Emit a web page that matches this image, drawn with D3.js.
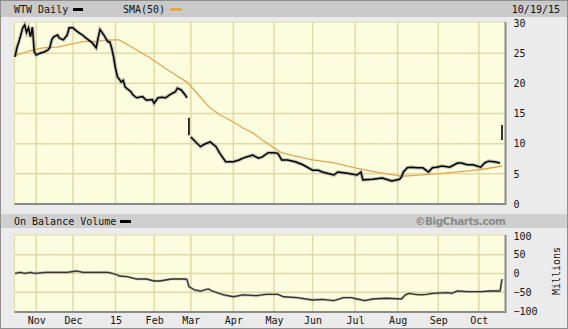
<!DOCTYPE html>
<html>
<head>
<meta charset="utf-8">
<script src="https://cdn.jsdelivr.net/npm/d3@7"></script>
<style>
  html, body { margin: 0; padding: 0; background: #ffffff; }
  svg { display: block; font-family: "DejaVu Sans Mono", monospace; }
</style>
</head>
<body>
<svg id="chart" width="568" height="329"></svg>
<script>
// NYSE holidays between the first and last bar (trading-day axis)
const holidays = ["2014-11-27", "2014-12-25", "2015-01-01", "2015-01-19", "2015-02-16",
                  "2015-04-03", "2015-05-25", "2015-07-03", "2015-09-07"];

const monthStarts = ["2014-11-03", "2014-12-01", "2015-01-02", "2015-02-02", "2015-03-02", "2015-04-01",
                     "2015-05-01", "2015-06-01", "2015-07-01", "2015-08-03", "2015-09-01", "2015-10-01"];
const monthLabels = ["Nov", "Dec", "15", "Feb", "Mar", "Apr", "May", "Jun", "Jul", "Aug", "Sep", "Oct"];

const priceTicks = [0, 5, 10, 15, 20, 25, 30];
const obvTicks = [-100, -50, 0, 50, 100];

// WTW close (null = price gap)
const price = [
  ["2014-10-17", 24.4], ["2014-10-20", 25.9], ["2014-10-21", 26.9], ["2014-10-22", 28.0], ["2014-10-23", 29.2],
  ["2014-10-24", 29.7], ["2014-10-27", 28.4], ["2014-10-28", 29.2], ["2014-10-29", 27.7], ["2014-10-30", 29.3],
  ["2014-10-31", 25.2], ["2014-11-03", 24.7], ["2014-11-05", 25.0], ["2014-11-07", 25.2], ["2014-11-11", 25.5],
  ["2014-11-12", 25.9], ["2014-11-13", 27.2], ["2014-11-14", 27.7], ["2014-11-18", 28.0], ["2014-11-19", 27.5],
  ["2014-11-21", 27.2], ["2014-11-25", 28.0], ["2014-11-26", 29.2], ["2014-12-01", 29.2], ["2014-12-02", 28.9],
  ["2014-12-04", 28.4], ["2014-12-08", 28.0], ["2014-12-09", 27.7], ["2014-12-11", 27.2], ["2014-12-15", 26.7],
  ["2014-12-17", 25.9], ["2014-12-18", 27.5], ["2014-12-19", 28.9], ["2014-12-23", 28.0], ["2014-12-26", 26.9],
  ["2014-12-29", 26.9], ["2014-12-30", 25.9], ["2014-12-31", 24.4], ["2015-01-02", 22.5], ["2015-01-05", 21.1],
  ["2015-01-07", 20.2], ["2015-01-08", 20.5], ["2015-01-09", 19.4], ["2015-01-14", 18.6], ["2015-01-15", 18.1],
  ["2015-01-20", 17.6], ["2015-01-23", 17.8], ["2015-01-27", 17.2], ["2015-01-30", 17.3], ["2015-02-02", 16.7],
  ["2015-02-04", 17.6], ["2015-02-06", 17.7], ["2015-02-10", 17.6], ["2015-02-12", 18.1], ["2015-02-18", 18.6],
  ["2015-02-19", 19.2], ["2015-02-23", 18.9], ["2015-02-25", 18.1], ["2015-02-26", 17.6], ["2015-02-27", null],
  ["2015-03-02", 11.1], ["2015-03-05", 10.1], ["2015-03-09", 9.5], ["2015-03-11", 9.9], ["2015-03-16", 10.3],
  ["2015-03-19", 9.5], ["2015-03-23", 8.4], ["2015-03-26", 7.0], ["2015-04-01", 7.0], ["2015-04-07", 7.3],
  ["2015-04-09", 7.6], ["2015-04-14", 7.9], ["2015-04-16", 8.1], ["2015-04-21", 7.6], ["2015-04-23", 7.8],
  ["2015-04-28", 8.5], ["2015-05-01", 8.5], ["2015-05-05", 8.4], ["2015-05-07", 7.3], ["2015-05-12", 7.3],
  ["2015-05-18", 7.0], ["2015-05-22", 6.5], ["2015-06-01", 5.6], ["2015-06-04", 5.6], ["2015-06-08", 5.3],
  ["2015-06-16", 4.8], ["2015-06-18", 5.3], ["2015-06-25", 5.1], ["2015-07-02", 4.8], ["2015-07-07", 5.3],
  ["2015-07-08", 4.0], ["2015-07-15", 4.1], ["2015-07-22", 4.3], ["2015-07-29", 3.8], ["2015-08-04", 4.1],
  ["2015-08-05", 4.5], ["2015-08-06", 5.3], ["2015-08-10", 6.0], ["2015-08-12", 6.1], ["2015-08-17", 6.0],
  ["2015-08-20", 6.0], ["2015-08-25", 5.3], ["2015-08-27", 6.0], ["2015-08-31", 6.1], ["2015-09-03", 6.3],
  ["2015-09-10", 6.1], ["2015-09-16", 6.8], ["2015-09-18", 6.8], ["2015-09-23", 6.5], ["2015-09-28", 6.5],
  ["2015-10-02", 6.1], ["2015-10-06", 6.8], ["2015-10-08", 7.1], ["2015-10-13", 7.0], ["2015-10-16", 6.8]
];

// gap days drawn as a lone high-low bar: [date, low, high]
const gapBars = [["2015-02-27", 11.4, 14.3], ["2015-10-19", 10.6, 13.1]];

const sma50 = [
  ["2014-10-17", 24.6], ["2014-10-29", 25.4], ["2014-11-07", 25.9], ["2014-11-18", 26.0], ["2014-11-28", 26.5],
  ["2014-12-08", 26.9], ["2014-12-18", 27.0], ["2014-12-29", 27.2], ["2015-01-06", 27.2], ["2015-01-15", 25.9],
  ["2015-01-29", 24.2], ["2015-02-11", 22.2], ["2015-02-26", 20.2], ["2015-03-09", 17.7], ["2015-03-16", 15.9],
  ["2015-03-23", 14.8], ["2015-04-01", 13.6], ["2015-04-09", 12.6], ["2015-04-16", 11.8], ["2015-04-23", 10.6],
  ["2015-05-01", 9.3], ["2015-05-07", 8.5], ["2015-05-15", 8.0], ["2015-06-01", 7.3], ["2015-06-16", 6.8],
  ["2015-07-01", 6.0], ["2015-07-17", 5.3], ["2015-08-03", 4.7], ["2015-08-05", 4.6], ["2015-08-18", 4.8],
  ["2015-08-31", 5.0], ["2015-09-15", 5.3], ["2015-09-24", 5.5], ["2015-10-06", 5.8], ["2015-10-19", 6.3]
];

// On Balance Volume, millions
const obv = [
  ["2014-10-17", 0.5], ["2014-10-22", 3], ["2014-10-24", 0.5], ["2014-10-29", 3], ["2014-10-31", 0.5],
  ["2014-11-10", 3], ["2014-11-25", 3], ["2014-12-03", 6.7], ["2014-12-08", 3], ["2014-12-26", 3],
  ["2014-12-29", 2], ["2015-01-05", -4], ["2015-01-06", -6.7], ["2015-01-12", -8.5], ["2015-01-20", -14.7],
  ["2015-01-27", -14.7], ["2015-02-02", -20], ["2015-02-05", -20], ["2015-02-13", -14.7], ["2015-02-25", -14.7],
  ["2015-02-26", -16], ["2015-02-27", -35], ["2015-03-04", -44], ["2015-03-09", -47], ["2015-03-13", -41],
  ["2015-03-17", -46.7], ["2015-03-25", -57], ["2015-04-01", -62], ["2015-04-09", -57], ["2015-04-20", -59],
  ["2015-04-27", -55.5], ["2015-05-05", -55.5], ["2015-05-08", -62], ["2015-05-19", -64.5], ["2015-06-01", -70.7],
  ["2015-06-08", -69], ["2015-06-16", -72.5], ["2015-06-23", -64.5], ["2015-06-29", -64.5], ["2015-07-02", -68],
  ["2015-07-09", -72.5], ["2015-07-15", -68], ["2015-07-24", -66], ["2015-08-05", -68], ["2015-08-07", -57],
  ["2015-08-11", -53], ["2015-08-14", -55.5], ["2015-08-19", -57], ["2015-08-24", -55.5], ["2015-08-27", -53],
  ["2015-09-09", -51], ["2015-09-11", -53], ["2015-09-16", -46.7], ["2015-09-23", -48.5], ["2015-10-02", -48.5],
  ["2015-10-09", -46.7], ["2015-10-16", -46.7], ["2015-10-19", -15]
];

// build the list of trading days, so the x axis skips weekends and holidays
const fmt = d3.utcFormat("%Y-%m-%d");
const tradingDays = d3.utcDays(new Date("2014-10-17"), new Date("2015-10-20"))
  .filter(d => d.getUTCDay() !== 0 && d.getUTCDay() !== 6)
  .map(fmt)
  .filter(s => !holidays.includes(s));
const dayIndex = s => d3.bisectLeft(tradingDays, s);

const W = 568, H = 329;
const plotL = 14.5, plotR = 505.5;
const top1 = 22, bot1 = 204;
const top2 = 235, bot2 = 312;

const x = d3.scaleLinear().domain([0, tradingDays.length - 1]).range([15, 502]);
const yPrice = d3.scaleLinear().domain([0, 30]).range([bot1, top1 + 1]);
const yObv = d3.scaleLinear().domain([-100, 100]).range([bot2 - 1, top2 + 1]);

const svg = d3.select("#chart");
const grid = "#e0dba6";

// frame and title bands
svg.append("rect").attr("x", 0.5).attr("y", 0.5).attr("width", W - 1).attr("height", H - 1)
  .attr("fill", "#ebebeb").attr("stroke", "#8e8e8e");
svg.append("rect").attr("x", 1).attr("y", 1).attr("width", W - 2).attr("height", 16).attr("fill", "#c9c9c9");
svg.append("rect").attr("x", 1).attr("y", 214).attr("width", W - 2).attr("height", 14).attr("fill", "#cfcfcf");

function panel(yTop, yBot, yScale, ticks) {
  const g = svg.append("g");
  g.append("rect").attr("x", plotL).attr("y", yTop).attr("width", plotR - plotL).attr("height", yBot - yTop)
    .attr("fill", "#fcfcde").attr("stroke", grid).attr("stroke-width", 1);
  g.selectAll("line.v").data(monthStarts).join("line")
    .attr("x1", d => x(dayIndex(d))).attr("x2", d => x(dayIndex(d)))
    .attr("y1", yTop).attr("y2", yBot)
    .attr("stroke", grid).attr("stroke-width", 1.5);
  g.selectAll("line.h").data(ticks.slice(1, -1)).join("line")
    .attr("x1", plotL).attr("x2", plotR)
    .attr("y1", d => yScale(d)).attr("y2", d => yScale(d))
    .attr("stroke", grid).attr("stroke-width", 1.5);
  // dark edge on the right and bottom
  g.append("path").attr("d", `M${plotR},${yTop}V${yBot}H${plotL}`)
    .attr("fill", "none").attr("stroke", "#8a8a8a").attr("stroke-width", 2);

  const axis = svg.append("g").attr("transform", `translate(${plotR},0)`)
    .call(d3.axisRight(yScale).tickValues(ticks).tickSize(0).tickPadding(8));
  axis.select(".domain").remove();
  axis.selectAll("text").attr("font-family", "DejaVu Sans Mono").attr("font-size", 10).attr("fill", "#111");
}

panel(top1, bot1, yPrice, priceTicks);
panel(top2, bot2, yObv, obvTicks);

// price: close line with a soft grey halo, like daily bars
const priceLine = d3.line()
  .defined(d => d[1] != null)
  .x(d => x(dayIndex(d[0])))
  .y(d => yPrice(d[1]));

const smaLine = d3.line()
  .x(d => x(dayIndex(d[0])))
  .y(d => yPrice(d[1]));

svg.append("path").datum(sma50).attr("d", smaLine)
  .attr("fill", "none").attr("stroke", "#e6a650").attr("stroke-width", 1.3);

svg.append("path").datum(price).attr("d", priceLine)
  .attr("fill", "none").attr("stroke", "#8c8c8c").attr("stroke-width", 3.6).attr("stroke-opacity", 0.55)
  .attr("stroke-linejoin", "miter");
svg.append("path").datum(price).attr("d", priceLine)
  .attr("fill", "none").attr("stroke", "#000").attr("stroke-width", 1.5).attr("stroke-linejoin", "miter");

svg.selectAll("line.gap").data(gapBars).join("line")
  .attr("x1", d => x(dayIndex(d[0]))).attr("x2", d => x(dayIndex(d[0])))
  .attr("y1", d => yPrice(d[1])).attr("y2", d => yPrice(d[2]))
  .attr("stroke", "#000").attr("stroke-width", 1.6);

// on balance volume
const obvLine = d3.line()
  .x(d => x(dayIndex(d[0])))
  .y(d => yObv(d[1]));
svg.append("path").datum(obv).attr("d", obvLine)
  .attr("fill", "none").attr("stroke", "#9a9a9a").attr("stroke-width", 2.6).attr("stroke-opacity", 0.6);
svg.append("path").datum(obv).attr("d", obvLine)
  .attr("fill", "none").attr("stroke", "#333").attr("stroke-width", 1.3);

// month labels under the bottom panel
const xAxis = svg.append("g").attr("transform", `translate(0,${bot2})`)
  .call(d3.axisBottom(x).tickValues(monthStarts.map(dayIndex))
    .tickFormat((d, i) => monthLabels[i]).tickSize(0).tickPadding(4.5));
xAxis.select(".domain").remove();
xAxis.selectAll("text").attr("font-family", "DejaVu Sans Mono").attr("font-size", 10).attr("fill", "#111");

// titles and legends
const label = (tx, ty, str, anchor = "start") => svg.append("text")
  .attr("x", tx).attr("y", ty).attr("font-size", 10).attr("fill", "#111")
  .attr("text-anchor", anchor).text(str);

label(14, 13, "WTW Daily");
svg.append("rect").attr("x", 73).attr("y", 8).attr("width", 10).attr("height", 3).attr("fill", "#000");
label(123, 13, "SMA(50)");
svg.append("rect").attr("x", 170).attr("y", 8).attr("width", 12).attr("height", 3).attr("fill", "#e6a650");
label(560, 13, "10/19/15", "end");

label(14, 225, "On Balance Volume");
svg.append("rect").attr("x", 120).attr("y", 220).attr("width", 11).attr("height", 3).attr("fill", "#000");

svg.append("text").attr("x", 506).attr("y", 225).attr("text-anchor", "end")
  .attr("font-family", "DejaVu Sans, sans-serif").attr("font-weight", "bold").attr("font-size", 10.5)
  .attr("fill", "#8a8a8a").attr("textLength", 91).text("\u00A9BigCharts.com");

svg.append("text").attr("transform", "translate(560,271) rotate(-90)")
  .attr("text-anchor", "middle").attr("font-size", 10).attr("fill", "#111").text("Millions");
</script>
</body>
</html>
